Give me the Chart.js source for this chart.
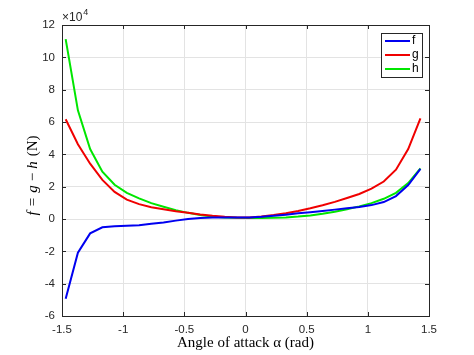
<!DOCTYPE html>
<html><head><meta charset="utf-8">
<script src="https://cdn.jsdelivr.net/npm/chart.js@4"></script>
<style>html,body{margin:0;padding:0;background:#fff}#wrap{width:474px;height:355px}</style>
</head><body><div id="wrap"><canvas id="c" width="474" height="355"></canvas></div>
<script>
const alphaValues = [-1.47,-1.37,-1.27,-1.17,-1.07,-0.97,-0.87,-0.77,-0.67,-0.57,-0.47,-0.37,-0.27,-0.17,-0.07,0.03,0.13,0.23,0.33,0.43,0.53,0.63,0.73,0.83,0.93,1.03,1.13,1.23,1.33,1.43];
const fValues = [-4.93,-2.08,-0.89,-0.51,-0.45,-0.42,-0.38,-0.30,-0.22,-0.10,0.00,0.06,0.10,0.10,0.09,0.10,0.14,0.20,0.27,0.35,0.42,0.50,0.58,0.66,0.74,0.86,1.05,1.42,2.10,3.10];
const gValues = [6.17,4.62,3.42,2.42,1.68,1.20,0.92,0.73,0.60,0.48,0.38,0.28,0.20,0.14,0.10,0.10,0.16,0.25,0.36,0.50,0.66,0.85,1.06,1.30,1.55,1.88,2.32,3.05,4.33,6.23];
const hValues = [11.13,6.72,4.33,2.93,2.12,1.62,1.28,0.98,0.76,0.55,0.38,0.25,0.16,0.10,0.07,0.06,0.06,0.08,0.10,0.15,0.22,0.32,0.45,0.60,0.78,0.98,1.25,1.62,2.22,3.13];
const xTicks = [-1.5,-1,-0.5,0,0.5,1,1.5];
const yTicks = [-6,-4,-2,0,2,4,6,8,10,12];
const seriesNames = ['f','g','h'];
const seriesColors = ['#0000f0','#f00000','#00e600'];
const yScaleExponent = '4';
const xTitle = 'Angle of attack \u03b1 (rad)';

const toPts = v => v.map((y,i)=>({x:alphaValues[i],y}));
const AXC = '#262626';
const FONT = 'Liberation Sans, Arial, sans-serif';

const boxPlugin = {
  id:'box',
  afterDatasetsDraw(chart){
    const {ctx, chartArea:a, scales} = chart;
    ctx.save();
    ctx.strokeStyle = AXC; ctx.lineWidth = 1;
    ctx.beginPath();
    xTicks.forEach(t=>{const x=Math.round(scales.x.getPixelForValue(t))+0.5;
      ctx.moveTo(x,a.bottom); ctx.lineTo(x,a.bottom-4);
      ctx.moveTo(x,a.top); ctx.lineTo(x,a.top+4);});
    yTicks.forEach(t=>{const y=Math.round(scales.y.getPixelForValue(t))+0.5;
      ctx.moveTo(a.left,y); ctx.lineTo(a.left+4,y);
      ctx.moveTo(a.right,y); ctx.lineTo(a.right-4,y);});
    ctx.stroke();
    ctx.strokeRect(Math.round(a.left)+0.5, Math.round(a.top)+0.5, Math.round(a.right-a.left), Math.round(a.bottom-a.top));
    // legend
    const lx=381, ly=33, lw=41, lh=44;
    ctx.fillStyle='#fff'; ctx.fillRect(lx,ly,lw,lh);
    ctx.strokeStyle=AXC; ctx.strokeRect(lx+0.5,ly+0.5,lw,lh);
    ctx.font='12px '+FONT; ctx.textBaseline='middle'; ctx.textAlign='left';
    chart.data.datasets.forEach((ds,i)=>{
      const y = ly+8+i*14;
      ctx.strokeStyle=ds.borderColor; ctx.lineWidth=2;
      ctx.beginPath(); ctx.moveTo(lx+4,y); ctx.lineTo(lx+29,y); ctx.stroke();
      ctx.fillStyle='#000'; ctx.fillText(ds.label, lx+31, y);
    });
    // exponent label
    ctx.fillStyle=AXC; ctx.textBaseline='alphabetic';
    ctx.font='12px '+FONT; ctx.fillText('\u00d710', a.left, a.top-4);
    const w = ctx.measureText('\u00d710').width;
    ctx.font='9px '+FONT; ctx.fillText(yScaleExponent, a.left+w+1, a.top-10);
    // y title with italic letters
    ctx.save();
    ctx.translate(33, (a.top+a.bottom)/2+5);
    ctx.rotate(-Math.PI/2);
    const parts=[['f',true,0],['=',false,5],['g',true,5],['\u2212',false,4],['h',true,4],['(N)',false,5]];
    const fnt=p=>(p[1]?'italic ':'')+'15px Liberation Serif, serif';
    let total=0;
    parts.forEach(p=>{ctx.font=fnt(p); total+=p[2]+ctx.measureText(p[0]).width;});
    let px=-total/2;
    ctx.fillStyle='#000'; ctx.textBaseline='middle';
    parts.forEach(p=>{ctx.font=fnt(p); px+=p[2]; ctx.fillText(p[0],px,0); px+=ctx.measureText(p[0]).width;});
    ctx.restore();
    ctx.restore();
  }
};

new Chart(document.getElementById('c'),{
  type:'line',
  data:{datasets:[fValues,gValues,hValues].map((v,i)=>({
    label:seriesNames[i], data:toPts(v), borderColor:seriesColors[i], backgroundColor:seriesColors[i],
    borderWidth:2, pointRadius:0, tension:0, fill:false}))},
  options:{
    responsive:false, animation:false,
    layout:{padding:{left:0,right:45,top:25,bottom:0}},
    plugins:{legend:{display:false}, tooltip:{enabled:false}},
    scales:{
      x:{type:'linear', min:-1.5, max:1.5,
        afterBuildTicks(s){s.ticks=xTicks.map(v=>({value:v}));},
        afterFit(s){s.height=39;},
        grid:{color:'#e3e3e3', drawTicks:false},
        border:{display:false},
        ticks:{padding:7, color:AXC, font:{family:FONT,size:11.5}, maxRotation:0,
          callback:v=>String(v)},
        title:{display:true, text:xTitle, color:'#000', font:{family:'Liberation Serif, serif', size:15}, padding:{top:0,bottom:3}}
      },
      y:{min:-6, max:12,
        afterBuildTicks(s){s.ticks=yTicks.map(v=>({value:v}));},
        afterFit(s){s.width=62;},
        grid:{color:'#e3e3e3', drawTicks:false},
        border:{display:false},
        ticks:{padding:7, color:AXC, font:{family:FONT,size:11.5}, callback:v=>String(v)}
      }
    }
  },
  plugins:[boxPlugin]
});
</script></body></html>
